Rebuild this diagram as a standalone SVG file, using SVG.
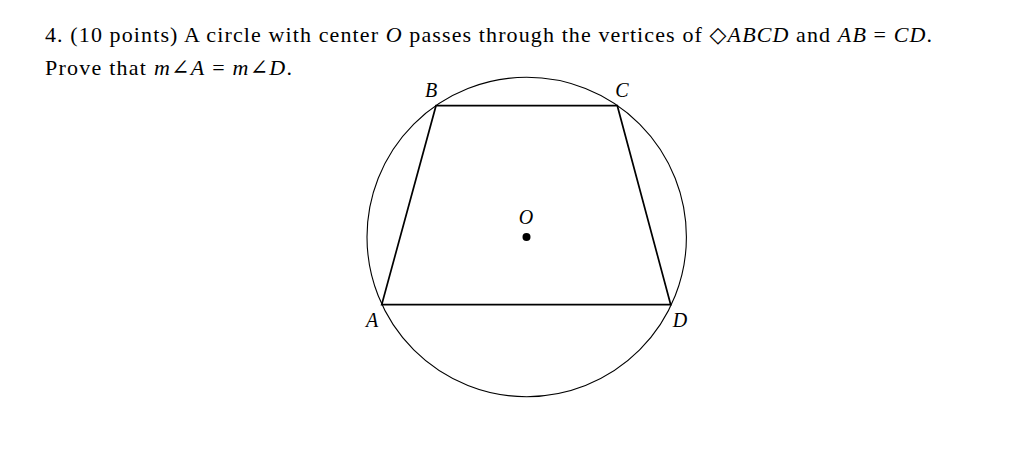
<svg xmlns="http://www.w3.org/2000/svg" width="1014" height="459" viewBox="0 0 1014 459">
<style>
.t{font-family:"Liberation Serif","DejaVu Serif",serif;font-size:22px;fill:#000}
.i{font-style:italic}
.lbl{font-family:"Liberation Serif","DejaVu Serif",serif;font-size:20px;font-style:italic;fill:#000;text-anchor:middle}
.sym{font-family:"DejaVu Serif","Liberation Serif",serif;font-style:normal}
</style>
<rect width="1014" height="459" fill="#fff"/>
<text class="t" x="45" y="42" textLength="887" lengthAdjust="spacing">4. (10 points) A circle with center <tspan class="i">O</tspan> passes through the vertices of <tspan class="sym">◇</tspan><tspan class="i">ABCD</tspan> and <tspan class="i">AB</tspan> = <tspan class="i">CD</tspan>.</text>
<text class="t" x="45" y="75" textLength="247" lengthAdjust="spacing">Prove that <tspan class="i">m</tspan><tspan class="sym">∠</tspan><tspan class="i">A</tspan> = <tspan class="i">m</tspan><tspan class="sym">∠</tspan><tspan class="i">D</tspan>.</text>
<g id="circle"><circle cx="526.7" cy="237" r="159.7" fill="none" stroke="#000" stroke-width="1.1"/></g>
<g id="connectors"><polygon points="381.7,304.7 436,105.7 617.3,105.7 670.7,304.7" fill="none" stroke="#000" stroke-width="1.7" stroke-linejoin="miter"/></g>
<g id="center"><circle cx="526.5" cy="237" r="4" fill="#000"/><text class="lbl" x="526" y="224">O</text></g>
<g id="A"><text class="lbl" x="372" y="327">A</text></g>
<g id="B"><text class="lbl" x="431" y="97">B</text></g>
<g id="C"><text class="lbl" x="622" y="97">C</text></g>
<g id="D"><text class="lbl" x="680" y="327">D</text></g>
</svg>
